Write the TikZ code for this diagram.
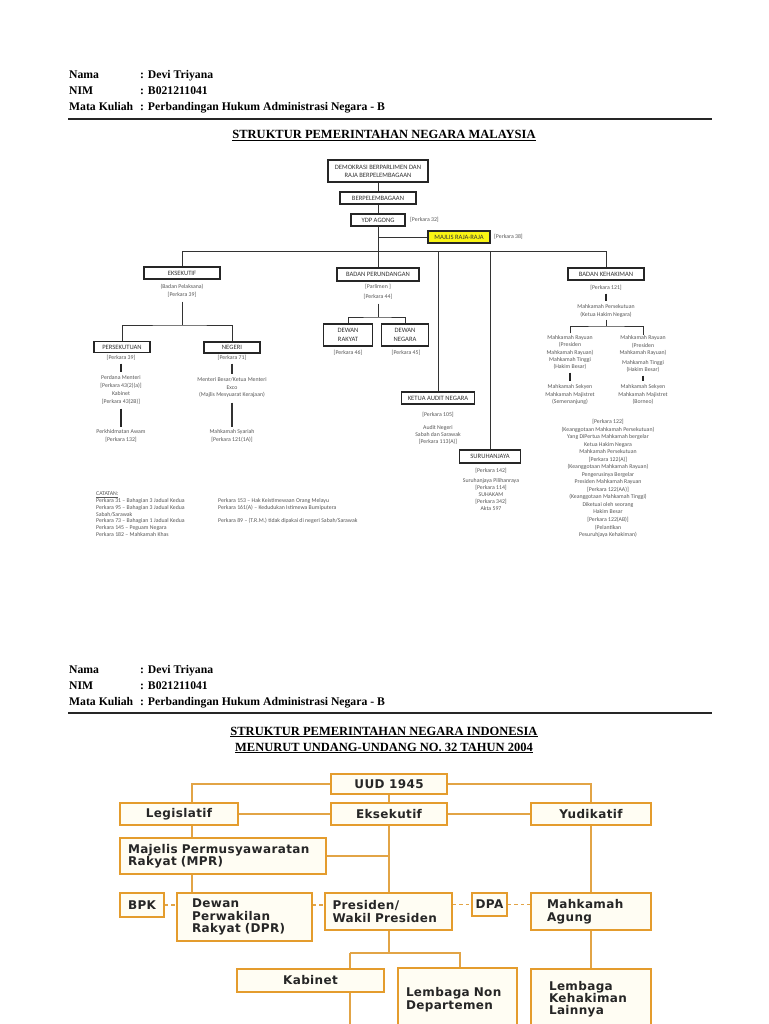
\documentclass[tikz,border=0pt]{standalone}
\usepackage{fontspec}
\setmainfont{Liberation Serif}
\newfontfamily\mfont{Carlito}
\newfontfamily\ifont{DejaVu Sans}[LetterSpace=3]
\usetikzlibrary{shadows}
\definecolor{iborder}{RGB}{228,156,45}
\definecolor{ilinec}{RGB}{226,164,70}
\definecolor{ifill}{RGB}{255,253,243}
\definecolor{myellow}{RGB}{250,245,20}
\begin{document}
\begin{tikzpicture}[x=1pt,y=-1pt,
  mbox/.style={draw=black!85, line width=1.1pt, fill=white, inner sep=0pt, align=center, font=\mfont\fontsize{6.6}{7.2}\selectfont, text=black!80},
  mann/.style={inner sep=0pt, align=center, font=\mfont\fontsize{5.8}{7.3}\selectfont, text=black!66},
  mline/.style={draw=black!80, line width=0.8pt},
  mbar/.style={draw=black!85, line width=1.7pt},
  ibox/.style={draw=iborder, line width=1.6pt, fill=ifill, inner sep=0pt, align=center, font=\ifont\bfseries\fontsize{12}{12.5}\selectfont, text=black!85, drop shadow={shadow xshift=1.3pt, shadow yshift=-1.3pt, fill=black, opacity=0.18}},
  iline/.style={draw=ilinec, line width=1.3pt},
  idash/.style={draw=ilinec, line width=1.3pt, dash pattern=on 3.5pt off 3pt},
  hdr/.style={font=\bfseries\fontsize{11.7}{14}\selectfont, inner sep=0pt, anchor=base west},
  ttl/.style={font=\bfseries\fontsize{12.5}{14}\selectfont, inner sep=0pt, anchor=base}
]
\useasboundingbox (0,0) rectangle (768,1024);
\clip (0,0) rectangle (768,1024);
\fill[white] (0,0) rectangle (768,1024);

% ---------------- header 1 ----------------
\node[hdr] (h1a) at (69,79) {Nama};
\node[hdr] (h1b) at (140,79) {: Devi Triyana};
\node[hdr] (h1c) at (69,95) {NIM};
\node[hdr] (h1d) at (140,95) {: B021211041};
\node[hdr] (h1e) at (69,111) {Mata Kuliah};
\node[hdr] (h1f) at (140,111) {: Perbandingan Hukum Administrasi Negara - B};
\draw[line width=1.8pt, black!85] (68,119) -- (712,119);
\node[ttl] (t1) at (384,139) {\underline{STRUKTUR PEMERINTAHAN NEGARA MALAYSIA}};

% ---------------- Malaysia chart ----------------
\node[mbox, minimum width=100pt, minimum height=22pt] (dem) at (378,171) {DEMOKRASI BERPARLIMEN DAN\\[1pt]RAJA BERPELEMBAGAAN};
\node[mbox, minimum width=76pt, minimum height=12pt] (ber) at (378,198) {BERPELEMBAGAAN};
\node[mbox, minimum width=54pt, minimum height=12pt] (ydp) at (378,220) {YDP AGONG};
\node[mann, anchor=west] (p32) at (410,220) {[Perkara 32]};
\node[mbox, fill=myellow, minimum width=62pt, minimum height=12pt] (mrr) at (459,237) {MAJLIS RAJA-RAJA};
\node[mann, anchor=west] (p38) at (494,237) {[Perkara 38]};
\node[mbox, minimum width=76pt, minimum height=12pt] (eks) at (182,273) {EKSEKUTIF};
\node[mbox, minimum width=82pt, minimum height=13pt] (bpr) at (378,274.5) {BADAN PERUNDANGAN};
\node[mbox, minimum width=76pt, minimum height=12pt] (bkh) at (606,274) {BADAN KEHAKIMAN};
\node[mbox, minimum width=73pt, minimum height=12pt] (kan) at (438,398) {KETUA AUDIT NEGARA};
\node[mbox, minimum width=61pt, minimum height=13pt] (sur) at (490,456.5) {SURUHANJAYA};
\node[mbox, minimum width=56pt, minimum height=11pt] (per) at (122,347) {PERSEKUTUAN};
\node[mbox, minimum width=56pt, minimum height=11pt] (neg) at (232,347.5) {NEGERI};
\node[mbox, minimum width=49pt, minimum height=22pt] (dr) at (348,335) {DEWAN\\[1.5pt]RAKYAT};
\node[mbox, minimum width=47pt, minimum height=22pt] (dn) at (405,335) {DEWAN\\[1.5pt]NEGARA};

\coordinate (hl) at (182,251);
\draw[mline] (dem) -- (ber);
\draw[mline] (ber) -- (ydp);
\draw[mline] (ydp) -- (bpr);
\draw[mline] (ydp.south |- mrr.west) -- (mrr.west);
\draw[mline] (eks.north) -- (eks.north |- hl) -- (bkh.north |- hl) -- (bkh.north);
\draw[mline] (kan.north |- hl) -- (kan.north);
\draw[mline] (sur.north |- hl) -- (sur.north);

% eksekutif branch
\node[mann, font=\mfont\fontsize{5.8}{8}\selectfont] (eksa) at (182,291) {(Badan Pelaksana)\\{}[Perkara 39]};
\coordinate (ekb) at (182,325);
\draw[mline] ([yshift=-4pt]eksa.south) -- (ekb);
\draw[mline] (per.north) |- (ekb) -| (neg.north);

\node[mann] (pera) at (121,358) {[Perkara 39]};
\node[mann, font=\mfont\fontsize{5.8}{8}\selectfont] (perb) at (121,390) {Perdana Menteri\\{}[Perkara 43(2)(a)]\\Kabinet\\{}[Perkara 43(2B)]};
\node[mann, font=\mfont\fontsize{5.8}{7.5}\selectfont] (perc) at (121,436) {Perkhidmatan Awam\\{}[Perkara 132]};
\draw[mbar, shorten <=3pt, shorten >=3pt] (pera) -- (perb);
\draw[mbar, shorten <=4pt, shorten >=3pt] (perb) -- (perc);

\node[mann] (nega) at (232,358) {[Perkara 71]};
\node[mann, font=\mfont\fontsize{5.8}{7.5}\selectfont] (negb) at (232,387.5) {Menteri Besar/Ketua Menteri\\Exco\\(Majlis Mesyuarat Kerajaan)};
\node[mann, font=\mfont\fontsize{5.8}{7.5}\selectfont] (negc) at (232,436) {Mahkamah Syariah\\{}[Perkara 121(1A)]};
\draw[mline, line width=1.1pt, shorten <=3pt, shorten >=3pt] (nega) -- (negb);
\draw[mline, line width=1.1pt, shorten <=5pt, shorten >=3pt] (negb) -- (negc);

% perundangan branch
\node[mann, font=\mfont\fontsize{5.8}{10}\selectfont] (bpra) at (378,292) {[Parlimen ]\\{}[Perkara 44]};
\coordinate (bprb) at (378,317);
\draw[mline] ([yshift=-4pt]bpra.south) -- (bprb);
\draw[mline] (dr.north) |- (bprb) -| (dn.north);
\node[mann] (dra) at (348,353) {[Perkara 46]};
\node[mann] (dna) at (406,353) {[Perkara 45]};

% audit
\node[mann] (kana) at (438,415) {[Perkara 105]};
\node[mann, font=\mfont\fontsize{5.8}{7}\selectfont] (kanb) at (438,435) {Audit Negeri\\Sabah dan Sarawak\\{}[Perkara 113(A)]};

% suruhanjaya
\node[mann] (sura) at (491,471) {[Perkara 142]};
\node[mann, font=\mfont\fontsize{5.8}{7}\selectfont] (surb) at (491,495) {Suruhanjaya Pilihanraya\\{}[Perkara 114]\\SUHAKAM\\{}[Perkara 342]\\Akta 597};

% kehakiman
\node[mann] (bkha) at (606,288) {[Perkara 121]};
\node[mann, font=\mfont\fontsize{5.8}{8}\selectfont] (bkhb) at (606,311) {Mahkamah Persekutuan\\(Ketua Hakim Negara)};
\draw[mbar, shorten <=3pt, shorten >=3pt] (bkha) -- (bkhb);
\coordinate (bkhc) at (606,326);
\draw[mline] ([yshift=-2pt]bkhb.south) -- (bkhc);
\node[mann, font=\mfont\fontsize{5.8}{7.25}\selectfont] (rla) at (570,352.5) {Mahkamah Rayuan\\(Presiden\\Mahkamah Rayuan)\\Mahkamah Tinggi\\(Hakim Besar)};
\node[mann, font=\mfont\fontsize{5.8}{7.5}\selectfont] (rlb) at (570,394.5) {Mahkamah Sekyen\\Mahkamah Majistret\\(Semenanjung)};
\node[mann, font=\mfont\fontsize{5.8}{7.5}\selectfont] (rra) at (643,345.5) {Mahkamah Rayuan\\(Presiden\\Mahkamah Rayuan)};
\node[mann, font=\mfont\fontsize{5.8}{7}\selectfont] (rrb) at (643,366.5) {Mahkamah Tinggi\\(Hakim Besar)};
\node[mann, font=\mfont\fontsize{5.8}{7.5}\selectfont] (rrc) at (643,394.5) {Mahkamah Sekyen\\Mahkamah Majistret\\(Borneo)};
\draw[mline, shorten <=2pt] (rla.north) |- (bkhc) -| (rra.north);
\draw[mbar, shorten <=3pt, shorten >=3pt] (rla) -- (rlb);
\draw[mbar, shorten <=3pt, shorten >=3pt] (rrb) -- (rrc);

\node[mann, font=\mfont\fontsize{5.8}{7.53}\selectfont] (kehn) at (608,478.5) {[Perkara 122]\\(Keanggotaan Mahkamah Persekutuan)\\Yang DiPertua Mahkamah bergelar\\Ketua Hakim Negara\\Mahkamah Persekutuan\\{}[Perkara 122(A)]\\(Keanggotaan Mahkamah Rayuan)\\Pengerusinya Bergelar\\Presiden Mahkamah Rayuan\\{}[Perkara 122(AA)]\\(Keanggotaan Mahkamah Tinggi)\\Diketuai oleh seorang\\Hakim Besar\\{}[Perkara 122(AB)]\\(Pelantikan\\Pesuruhjaya Kehakiman)};

% notes
\node[mann, align=left, anchor=west, font=\mfont\fontsize{5.8}{6.75}\selectfont] (cat) at (96,514.25) {\underline{CATATAN:}\\Perkara 31 – Bahagian 3 Jadual Kedua\\Perkara 95 – Bahagian 3 Jadual Kedua\\Sabah/Sarawak\\Perkara 73 – Bahagian 1 Jadual Kedua\\Perkara 145 – Peguam Negara\\Perkara 182 – Mahkamah Khas};
\node[mann, align=left, anchor=west, font=\mfont\fontsize{5.8}{6.75}\selectfont] (cat2) at (218,511) {Perkara 153 – Hak Keistimewaan Orang Melayu\\Perkara 161(A) – Kedudukan Istimewa Bumiputera\\\mbox{}\\Perkara 89 – (T.R.M.) tidak dipakai di negeri Sabah/Sarawak};

% ---------------- header 2 ----------------
\node[hdr] (h2a) at (69,673) {Nama};
\node[hdr] (h2b) at (140,673) {: Devi Triyana};
\node[hdr] (h2c) at (69,689) {NIM};
\node[hdr] (h2d) at (140,689) {: B021211041};
\node[hdr] (h2e) at (69,705) {Mata Kuliah};
\node[hdr] (h2f) at (140,705) {: Perbandingan Hukum Administrasi Negara - B};
\draw[line width=1.8pt, black!85] (68,713) -- (712,713);
\node[ttl] (t2) at (384,735) {\underline{STRUKTUR PEMERINTAHAN NEGARA INDONESIA}};
\node[ttl] (t3) at (384,751) {\underline{MENURUT UNDANG-UNDANG NO. 32 TAHUN 2004}};

% ---------------- Indonesia chart ----------------
\coordinate (lv) at (192,784);
\coordinate (kx) at (350,953);
\coordinate (lx) at (460,953);
\coordinate (kb) at (350,1030);

% connectors first (under boxes)
\draw[iline] (389,784) -| (lv) -- (192,814);
\draw[iline] (389,784) -| (591,814);
\draw[iline] (179,814) -- (591,814);
\draw[iline] (lv) -- (192,905);
\draw[iline] (223,856) -- (389,856);
\draw[iline] (389,784) -- (389,953);
\draw[iline] (591,814) -- (591,1000);
\draw[iline] (kx) -- (lx) -- (460,1000);
\draw[iline] (kx) -- (kb);

\node[ibox, minimum width=116pt, minimum height=20pt] (uud) at (389,784) {UUD 1945};
\node[ibox, minimum width=118pt, minimum height=22pt] (leg) at (179,814) {Legislatif};
\node[ibox, minimum width=116pt, minimum height=22pt] (eks2) at (389,814) {Eksekutif};
\node[ibox, minimum width=120pt, minimum height=22pt] (yud) at (591,814) {Yudikatif};
\node[ibox, align=left, inner xsep=8pt, text width=190pt, minimum height=36pt] (mpr) at (223,856) {Majelis Permusyawaratan\\Rakyat (MPR)};
\node[ibox, minimum width=44pt, minimum height=24pt] (bpk) at (142,905) {BPK};
\node[ibox, align=left, inner xsep=15pt, text width=105pt, minimum height=48pt] (dpr) at (244.5,917) {Dewan\\Perwakilan\\Rakyat (DPR)};
\node[ibox, align=left, inner xsep=7.5pt, text width=112pt, minimum height=37pt] (pres) at (388.5,911.5) {Presiden/\\Wakil Presiden};
\node[ibox, minimum width=35pt, minimum height=23pt] (dpa) at (489.5,904.5) {DPA};
\node[ibox, align=left, inner xsep=16pt, text width=88pt, minimum height=37pt] (ma) at (591,911.5) {Mahkamah\\Agung};
\node[ibox, minimum width=147pt, minimum height=23pt] (kab) at (310.5,980.5) {Kabinet};
\node[ibox, align=left, inner xsep=8pt, text width=103pt, minimum height=63pt] (lnd) at (457.5,999.5) {Lembaga Non\\Departemen};
\node[ibox, align=left, inner xsep=18pt, text width=84pt, minimum height=60pt, font=\ifont\bfseries\fontsize{12}{12}\selectfont] (lkl) at (591,999) {Lembaga\\Kehakiman\\Lainnya};

\draw[idash] (bpk.east) -- (bpk.east -| dpr.west);
\draw[idash] (dpr.east |- bpk.east) -- (pres.west |- bpk.east);
\draw[idash] (pres.east |- dpa.west) -- (dpa.west);
\draw[idash] (dpa.east) -- (dpa.east -| ma.west);
\end{tikzpicture}
\end{document}
